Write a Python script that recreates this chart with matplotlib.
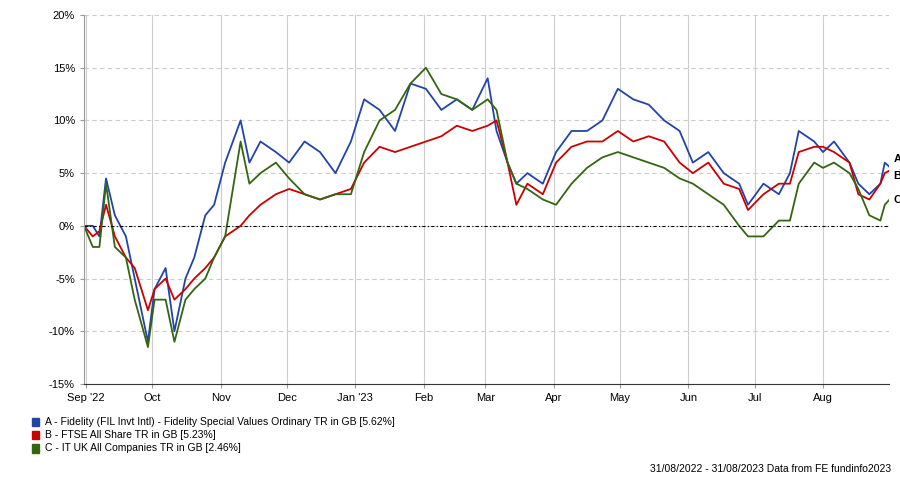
import matplotlib.pyplot as plt
import matplotlib.dates as mdates
import numpy as np
import datetime as dt

plt.rcParams['font.family'] = ['Liberation Sans', 'DejaVu Sans']

start = dt.date(2022, 8, 31)
days = [0, 4, 7, 10, 14, 19, 23, 29, 32, 37, 41, 46, 50, 55, 59, 64, 71, 75, 80, 87,
        93, 100, 107, 114, 121, 127, 134, 141, 148, 155, 162, 169, 176, 183, 187, 192,
        196, 201, 208, 214, 221, 228, 235, 242, 249, 256, 263, 270, 276, 283, 290, 297,
        301, 308, 315, 320, 324, 331, 335, 340, 347, 351, 356, 361, 363, 365]
fund_a = [0, 0, -1, 4.5, 1, -1, -5, -11, -6, -4, -10, -5, -3, 1, 2, 6, 10, 6, 8, 7,
          6, 8, 7, 5, 8, 12, 11, 9, 13.5, 13, 11, 12, 11, 14, 9, 6, 4, 5, 4, 7,
          9, 9, 10, 13, 12, 11.5, 10, 9, 6, 7, 5, 4, 2, 4, 3, 5, 9, 8, 7, 8,
          6, 4, 3, 4, 6, 5.62]
ftse = [0, -1, -0.5, 2, -1, -3, -4, -8, -6, -5, -7, -6, -5, -4, -3, -1, 0, 1, 2, 3,
        3.5, 3, 2.5, 3, 3.5, 6, 7.5, 7, 7.5, 8, 8.5, 9.5, 9, 9.5, 10, 6, 2, 4, 3, 6,
        7.5, 8, 8, 9, 8, 8.5, 8, 6, 5, 6, 4, 3.5, 1.5, 3, 4, 4, 7, 7.5, 7.5, 7,
        6, 3, 2.5, 4, 5, 5.23]
sector = [0, -2, -2, 4, -2, -3, -7, -11.5, -7, -7, -11, -7, -6, -5, -3, -1, 8, 4, 5, 6,
          4.5, 3, 2.5, 3, 3, 7, 10, 11, 13.5, 15, 12.5, 12, 11, 12, 11, 6, 4, 3.5, 2.5, 2,
          4, 5.5, 6.5, 7, 6.5, 6, 5.5, 4.5, 4, 3, 2, 0, -1, -1, 0.5, 0.5, 4, 6, 5.5, 6,
          5, 3.5, 1, 0.5, 2, 2.46]
names = ["A - Fidelity (FIL Invt Intl) - Fidelity Special Values Ordinary TR in GB [5.62%]",
         "B - FTSE All Share TR in GB [5.23%]",
         "C - IT UK All Companies TR in GB [2.46%]"]
tags = ["A", "B", "C"]
colors = ["#2244aa", "#cc0000", "#336611"]

dates = [start + dt.timedelta(days=d) for d in days]

fig = plt.figure(figsize=(9, 4.84), dpi=100)
ax = fig.add_axes([0.0933, 0.2066, 0.8947, 0.7624])
for vals, c in zip([fund_a, ftse, sector], colors):
    ax.plot(dates, vals, color=c, lw=1.3)
ax.axhline(0, color='black', lw=0.8, ls=(0, (3, 2, 1, 2)))

ax.set_xlim(start, start + dt.timedelta(days=365))
ax.set_ylim(-15, 20)
ax.set_yticks(range(-15, 21, 5))
ax.set_yticklabels([f"{v}%" for v in range(-15, 21, 5)], fontsize=8)
months = [dt.date(2022, 9, 1)] + [dt.date(2022 + (m > 12), (m - 1) % 12 + 1, 1) for m in range(10, 21)]
ax.set_xticks(months)
ax.set_xticklabels(["Sep '22", "Oct", "Nov", "Dec", "Jan '23", "Feb", "Mar", "Apr",
                    "May", "Jun", "Jul", "Aug"], fontsize=8)
ax.tick_params(length=3, color='#999999')
ax.grid(axis='x', color='#cccccc', lw=0.8)
ax.grid(axis='y', color='#cccccc', lw=0.8, ls=(0, (4, 3)))
for s in ['top', 'right']:
    ax.spines[s].set_visible(False)
ax.spines['left'].set_color('#999999')
ax.spines['bottom'].set_color('#333333')

ends = [fund_a[-1], ftse[-1], sector[-1]]
offs = [0.7, -0.5, 0]
for t, v, o in zip(tags, ends, offs):
    ax.annotate(t, (dates[-1], v + o), xytext=(3, 0), textcoords='offset points',
                va='center', fontsize=8, fontweight='bold', annotation_clip=False)

for i, (n, c) in enumerate(zip(names, colors)):
    y = 0.128 - i * 0.027
    fig.patches.append(plt.Rectangle((0.036, y - 0.009), 0.0075, 0.018, color=c,
                                     transform=fig.transFigure))
    fig.text(0.05, y, n, fontsize=7.5, va='center')

fig.text(0.99, 0.02, "31/08/2022 - 31/08/2023 Data from FE fundinfo2023",
         fontsize=7.5, ha='right', va='bottom')

fig.savefig("out.png", dpi=100)
